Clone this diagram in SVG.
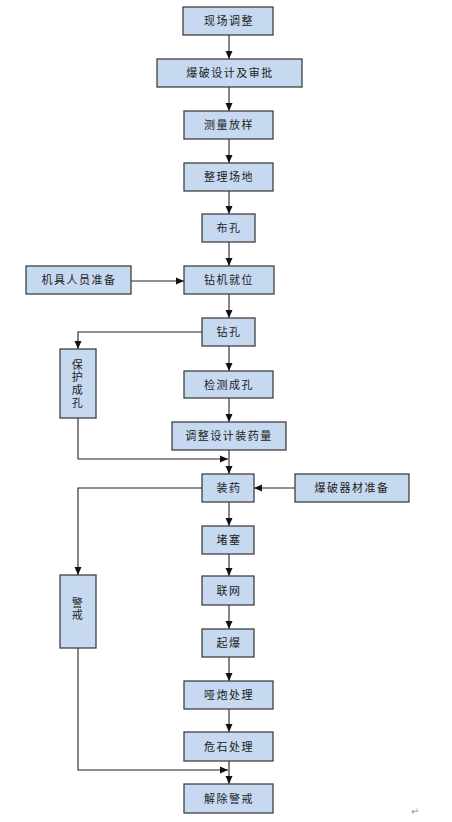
<svg xmlns="http://www.w3.org/2000/svg" width="452" height="822" viewBox="0 0 452 822">
<style>
.b{fill:#C6D9F1;stroke:#404040;stroke-width:1.3}
.t{font-family:"Liberation Sans","Noto Sans CJK SC",sans-serif;font-size:11px;fill:#222;text-anchor:middle;letter-spacing:1.5px}
.c{fill:none;stroke:#222;stroke-width:1.1}
</style>
<defs>
<marker id="a" markerUnits="userSpaceOnUse" markerWidth="8" markerHeight="8" refX="8" refY="4" orient="auto"><path d="M0,0.5 L8,4 L0,7.5 z" fill="#111"/></marker>
</defs>
<rect width="452" height="822" fill="#fff"/>
<g id="connectors">
<path class="c" d="M229,35 V59" marker-end="url(#a)"/>
<path class="c" d="M229,87 V111" marker-end="url(#a)"/>
<path class="c" d="M229,139 V163" marker-end="url(#a)"/>
<path class="c" d="M229,191 V214" marker-end="url(#a)"/>
<path class="c" d="M229,242 V266" marker-end="url(#a)"/>
<path class="c" d="M131,281 H184" marker-end="url(#a)"/>
<path class="c" d="M229,294 V318" marker-end="url(#a)"/>
<path class="c" d="M202,332 H78 V349" marker-end="url(#a)"/>
<path class="c" d="M229,346 V371" marker-end="url(#a)"/>
<path class="c" d="M229,398 V422" marker-end="url(#a)"/>
<path class="c" d="M78,418 V459 H228" marker-end="url(#a)"/>
<path class="c" d="M229,450 V474" marker-end="url(#a)"/>
<path class="c" d="M295,488 H254" marker-end="url(#a)"/>
<path class="c" d="M202,488 H78 V575" marker-end="url(#a)"/>
<path class="c" d="M229,502 V526" marker-end="url(#a)"/>
<path class="c" d="M229,554 V576" marker-end="url(#a)"/>
<path class="c" d="M229,605 V629" marker-end="url(#a)"/>
<path class="c" d="M229,657 V681" marker-end="url(#a)"/>
<path class="c" d="M229,709 V732" marker-end="url(#a)"/>
<path class="c" d="M78,648 V770 H228" marker-end="url(#a)"/>
<path class="c" d="M229,761 V784" marker-end="url(#a)"/>
</g>
<g id="n1"><rect class="b" x="183" y="7" width="90" height="28"/><text class="t" x="229" y="25">现场调整</text></g>
<g id="n2"><rect class="b" x="157" y="59" width="145" height="28"/><text class="t" x="230" y="77">爆破设计及审批</text></g>
<g id="n3"><rect class="b" x="184" y="111" width="89" height="28"/><text class="t" x="229" y="129">测量放样</text></g>
<g id="n4"><rect class="b" x="184" y="163" width="89" height="28"/><text class="t" x="229" y="181">整理场地</text></g>
<g id="n5"><rect class="b" x="202" y="214" width="53" height="28"/><text class="t" x="229" y="232">布孔</text></g>
<g id="n6"><rect class="b" x="184" y="266" width="90" height="28"/><text class="t" x="229" y="284">钻机就位</text></g>
<g id="n7"><rect class="b" x="26" y="266" width="105" height="28"/><text class="t" x="79" y="284">机具人员准备</text></g>
<g id="n8"><rect class="b" x="202" y="318" width="53" height="28"/><text class="t" x="229" y="336">钻孔</text></g>
<g id="n9"><rect class="b" x="60" y="349" width="36" height="69"/><text class="t" x="78" y="369">保</text><text class="t" x="78" y="381">护</text><text class="t" x="78" y="394">成</text><text class="t" x="78" y="407">孔</text></g>
<g id="n10"><rect class="b" x="184" y="371" width="89" height="27"/><text class="t" x="229" y="389">检测成孔</text></g>
<g id="n11"><rect class="b" x="172" y="422" width="114" height="28"/><text class="t" x="229" y="440">调整设计装药量</text></g>
<g id="n12"><rect class="b" x="202" y="474" width="52" height="28"/><text class="t" x="229" y="492">装药</text></g>
<g id="n13"><rect class="b" x="295" y="474" width="114" height="28"/><text class="t" x="352" y="492">爆破器材准备</text></g>
<g id="n14"><rect class="b" x="202" y="526" width="52" height="28"/><text class="t" x="229" y="544">堵塞</text></g>
<g id="n15"><rect class="b" x="202" y="576" width="52" height="29"/><text class="t" x="229" y="595">联网</text></g>
<g id="n16"><rect class="b" x="60" y="575" width="36" height="73"/><text class="t" x="78" y="607">警</text><text class="t" x="78" y="619">戒</text></g>
<g id="n17"><rect class="b" x="202" y="629" width="52" height="28"/><text class="t" x="229" y="647">起爆</text></g>
<g id="n18"><rect class="b" x="184" y="681" width="89" height="28"/><text class="t" x="229" y="699">哑炮处理</text></g>
<g id="n19"><rect class="b" x="184" y="732" width="89" height="29"/><text class="t" x="229" y="751">危石处理</text></g>
<g id="n20"><rect class="b" x="184" y="784" width="89" height="29"/><text class="t" x="229" y="803">解除警戒</text></g>
<text x="415" y="815" font-family="DejaVu Sans,sans-serif" font-size="10" fill="#999" text-anchor="middle">↵</text>
</svg>
